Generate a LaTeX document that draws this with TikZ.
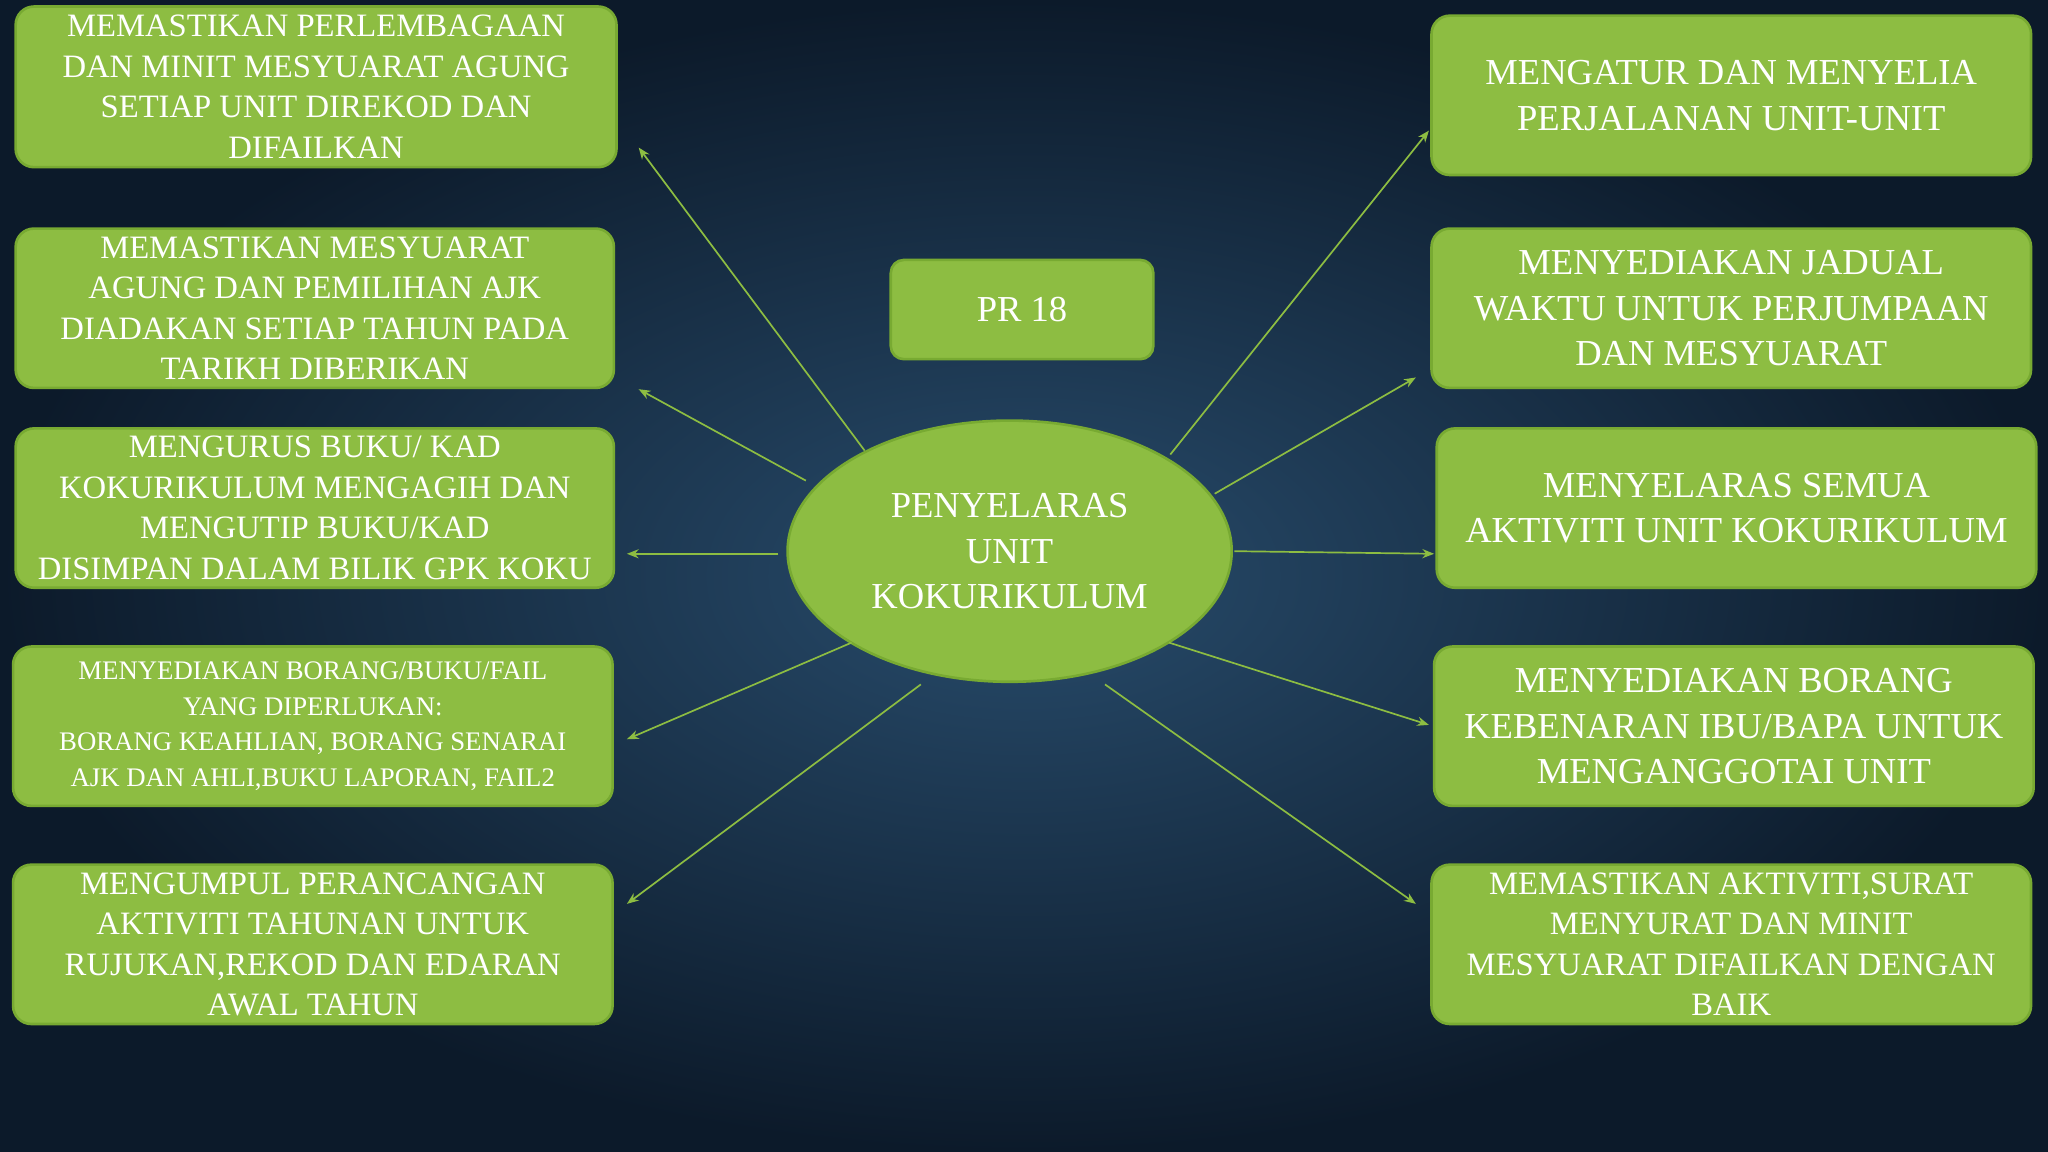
\documentclass[tikz,border=0pt]{standalone}
\usepackage{fontspec}
\setmainfont{Liberation Serif}
\usetikzlibrary{arrows.meta,shapes.geometric}
\definecolor{gbox}{RGB}{141,189,66}
\definecolor{gedge}{RGB}{120,170,50}
\definecolor{bgin}{RGB}{40,76,108}
\definecolor{bgout}{RGB}{12,26,42}
\tikzset{
 box/.style={draw=gedge, line width=2pt, fill=gbox, rounded corners=14pt, text=white, align=center, inner sep=0pt},
 conn/.style={draw=gbox, line width=1.3pt, -{Stealth[length=9pt,width=7pt]}}
}
\begin{document}
\begin{tikzpicture}[x=1pt,y=-1pt]
\useasboundingbox (0,0) rectangle (1568,882);
\shade[inner color=bgin, outer color=bgout] (0,0) rectangle (1568,882);
% left boxes
\node[box, minimum width=460pt, minimum height=123pt, font=\fontsize{25}{31}\selectfont] (L1) at (242,66.5) {MEMASTIKAN PERLEMBAGAAN\\DAN MINIT MESYUARAT AGUNG\\SETIAP UNIT DIREKOD DAN\\DIFAILKAN};
\node[box, minimum width=458pt, minimum height=122pt, font=\fontsize{25}{31}\selectfont] (L2) at (241,236) {MEMASTIKAN MESYUARAT\\AGUNG DAN PEMILIHAN AJK\\DIADAKAN SETIAP TAHUN PADA\\TARIKH DIBERIKAN};
\node[box, minimum width=458pt, minimum height=122pt, font=\fontsize{25}{31}\selectfont] (L3) at (241,389) {MENGURUS BUKU/ KAD\\KOKURIKULUM MENGAGIH DAN\\MENGUTIP BUKU/KAD\\DISIMPAN DALAM BILIK GPK KOKU};
\node[box, minimum width=459pt, minimum height=122pt, font=\fontsize{20.5}{27.5}\selectfont] (L4) at (239.5,556) {MENYEDIAKAN BORANG/BUKU/FAIL\\YANG DIPERLUKAN:\\BORANG KEAHLIAN, BORANG SENARAI\\AJK DAN AHLI,BUKU LAPORAN, FAIL2};
\node[box, minimum width=459pt, minimum height=122pt, font=\fontsize{25}{31}\selectfont] (L5) at (239.5,723) {MENGUMPUL PERANCANGAN\\AKTIVITI TAHUNAN UNTUK\\RUJUKAN,REKOD DAN EDARAN\\AWAL TAHUN};
% right boxes
\node[box, minimum width=459pt, minimum height=122pt, font=\fontsize{28}{35}\selectfont] (R1) at (1325.5,73) {MENGATUR DAN MENYELIA\\PERJALANAN UNIT-UNIT};
\node[box, minimum width=459pt, minimum height=122pt, font=\fontsize{28}{35}\selectfont] (R2) at (1325.5,236) {MENYEDIAKAN JADUAL\\WAKTU UNTUK PERJUMPAAN\\DAN MESYUARAT};
\node[box, minimum width=459pt, minimum height=122pt, font=\fontsize{28}{35}\selectfont] (R3) at (1329.5,389) {MENYELARAS SEMUA\\AKTIVITI UNIT KOKURIKULUM};
\node[box, minimum width=459pt, minimum height=122pt, font=\fontsize{28}{35}\selectfont] (R4) at (1327.5,556) {MENYEDIAKAN BORANG\\KEBENARAN IBU/BAPA UNTUK\\MENGANGGOTAI UNIT};
\node[box, minimum width=459pt, minimum height=122pt, font=\fontsize{25}{31}\selectfont] (R5) at (1325.5,723) {MEMASTIKAN AKTIVITI,SURAT\\MENYURAT DAN MINIT\\MESYUARAT DIFAILKAN DENGAN\\BAIK};
% centre
\node[box, rounded corners=10pt, minimum width=201pt, minimum height=76pt, font=\fontsize{28}{35}\selectfont] (PR) at (782.5,237) {PR 18};
\node[draw=gedge, line width=2pt, fill=gbox, ellipse, minimum width=340pt, minimum height=200pt, text=white, align=center, inner sep=0pt, font=\fontsize{28}{35}\selectfont] (C) at (773,422) {PENYELARAS\\UNIT\\KOKURIKULUM};
% connector coordinates
\coordinate (s1) at (662,345); \coordinate (e1) at (489,113);
\coordinate (s2) at (617,368); \coordinate (e2) at (489,298);
\coordinate (s3) at (596,424); \coordinate (e3) at (480,424);
\coordinate (s4) at (652,492); \coordinate (e4) at (480,566);
\coordinate (s5) at (705,524); \coordinate (e5) at (480,692);
\coordinate (t1) at (896,348); \coordinate (f1) at (1094,100);
\coordinate (t2) at (930,378); \coordinate (f2) at (1084,289);
\coordinate (t3) at (945,422); \coordinate (f3) at (1098,424);
\coordinate (t4) at (895,492); \coordinate (f4) at (1094,555);
\coordinate (t5) at (846,524); \coordinate (f5) at (1084,692);
\foreach \i in {1,...,5}{
  \draw[conn] (s\i) -- (e\i);
  \draw[conn] (t\i) -- (f\i);
}
\end{tikzpicture}
\end{document}
